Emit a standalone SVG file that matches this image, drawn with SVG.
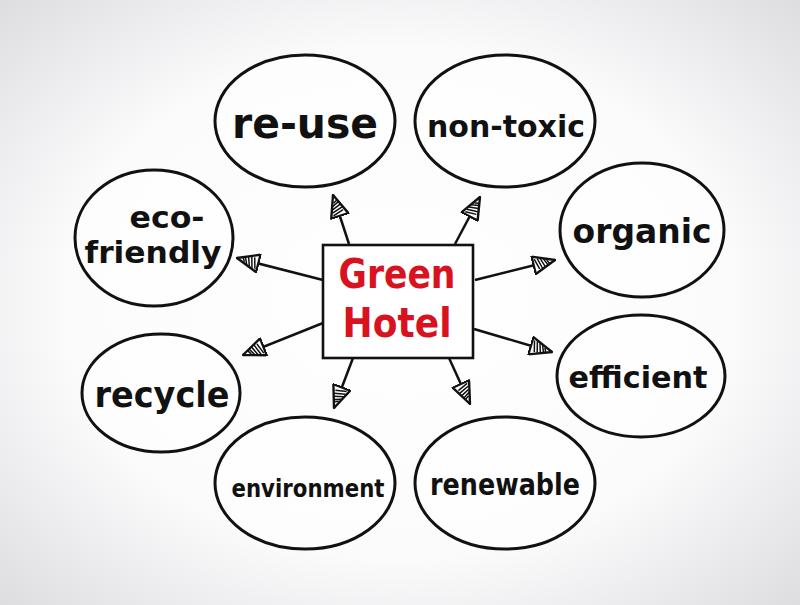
<svg xmlns="http://www.w3.org/2000/svg" width="800" height="605" viewBox="0 0 800 605">
<defs>
<radialGradient id="bg" cx="50%" cy="50%" r="70%">
<stop offset="0" stop-color="#ffffff"/>
<stop offset="0.6" stop-color="#fbfbfc"/>
<stop offset="1" stop-color="#dedee1"/>
</radialGradient>
<marker id="ah" viewBox="0 0 24 20" refX="23" refY="10" markerWidth="24" markerHeight="20" markerUnits="userSpaceOnUse" orient="auto">
<path d="M1,1 L23,10 L1,19 Z" fill="#ffffff" stroke="#111" stroke-width="2.4" stroke-linejoin="round"/>
<path d="M3,4 L6,15 M6,4 L9,15 M9,5 L12,14 M12,6 L15,13 M15,8 L17,12" stroke="#111" stroke-width="1.5" fill="none"/>
</marker>
<style>
.bub{fill:#ffffff;fill-opacity:0.55;stroke:#111;stroke-width:3}
.lbl{font-family:"DejaVu Sans","Liberation Sans",sans-serif;font-weight:bold;fill:#111;text-anchor:middle}
.con{stroke:#111;stroke-width:2.5;fill:none;marker-end:url(#ah)}
.hub{fill:#ffffff;stroke:#111;stroke-width:2.6}
.red{font-family:"DejaVu Sans","Liberation Sans",sans-serif;font-weight:bold;fill:#d8131f;text-anchor:middle}
</style>
</defs>
<rect width="800" height="605" fill="url(#bg)"/>

<g id="connectors">
<path class="con" d="M349,244 L333,195"/>
<path class="con" d="M455,244 L480,197"/>
<path class="con" d="M323,280 L237,258"/>
<path class="con" d="M475,280 L555,260"/>
<path class="con" d="M323,323 L243,355"/>
<path class="con" d="M474,329 L552,352"/>
<path class="con" d="M353,358 L334,408"/>
<path class="con" d="M449,358 L470,404"/>
</g>

<g id="hub">
<rect class="hub" x="323" y="245" width="150" height="113"/>
<text class="red" x="397" y="288" font-size="40" textLength="117" lengthAdjust="spacingAndGlyphs">Green</text>
<text class="red" x="397" y="337" font-size="40" textLength="109" lengthAdjust="spacingAndGlyphs">Hotel</text>
</g>

<g id="n-reuse">
<ellipse class="bub" cx="305" cy="121" rx="90" ry="66"/>
<text class="lbl" x="305" y="138" font-size="42" textLength="146" lengthAdjust="spacingAndGlyphs">re-use</text>
</g>
<g id="n-nontoxic">
<ellipse class="bub" cx="505" cy="121" rx="90" ry="66"/>
<text class="lbl" x="506" y="137" font-size="31" textLength="158" lengthAdjust="spacingAndGlyphs">non-toxic</text>
</g>
<g id="n-ecofriendly">
<ellipse class="bub" cx="154" cy="238" rx="79" ry="68"/>
<text class="lbl" x="167" y="228" font-size="30" textLength="75" lengthAdjust="spacingAndGlyphs">eco-</text>
<text class="lbl" x="153" y="263" font-size="30" textLength="137" lengthAdjust="spacingAndGlyphs">friendly</text>
</g>
<g id="n-organic">
<ellipse class="bub" cx="642" cy="230" rx="82" ry="67"/>
<text class="lbl" x="642" y="243" font-size="34" textLength="139" lengthAdjust="spacingAndGlyphs">organic</text>
</g>
<g id="n-recycle">
<ellipse class="bub" cx="161" cy="393" rx="79" ry="59"/>
<text class="lbl" x="162" y="407" font-size="36" textLength="135" lengthAdjust="spacingAndGlyphs">recycle</text>
</g>
<g id="n-efficient">
<ellipse class="bub" cx="641" cy="376" rx="84" ry="61"/>
<text class="lbl" x="638" y="388" font-size="30" textLength="139" lengthAdjust="spacingAndGlyphs">efficient</text>
</g>
<g id="n-environment">
<ellipse class="bub" cx="305" cy="483" rx="90" ry="66"/>
<text class="lbl" x="308" y="497" font-size="25" textLength="153" lengthAdjust="spacingAndGlyphs">environment</text>
</g>
<g id="n-renewable">
<ellipse class="bub" cx="505" cy="483" rx="90" ry="66"/>
<text class="lbl" x="505" y="495" font-size="30" textLength="150" lengthAdjust="spacingAndGlyphs">renewable</text>
</g>
</svg>
